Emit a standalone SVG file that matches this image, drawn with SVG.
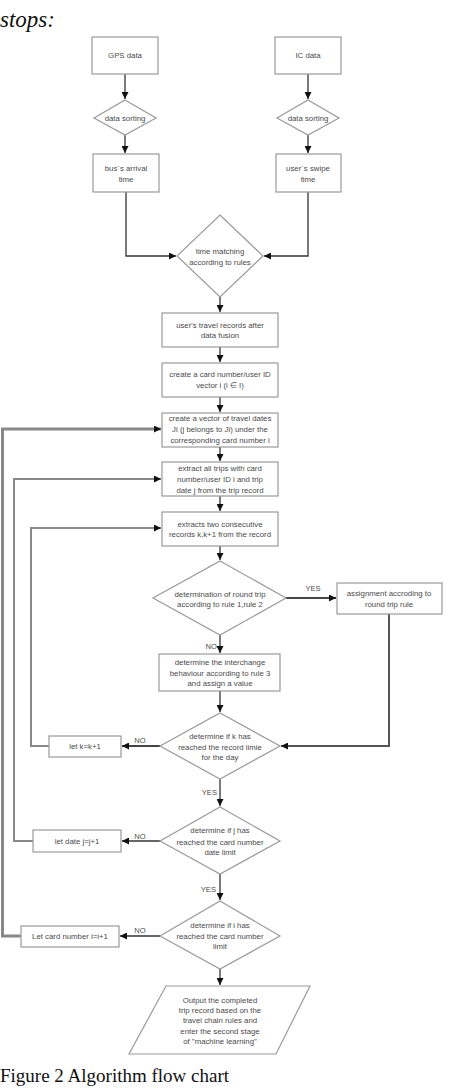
<svg xmlns="http://www.w3.org/2000/svg" width="474" height="1088" viewBox="0 0 474 1088">
<style>
.box{fill:#fff;stroke:#9a9a9a;stroke-width:1.2}
.t{font-family:"Liberation Sans",Arial,sans-serif;font-size:7.8px;fill:#4a4a4a;text-anchor:middle}
.lbl{font-family:"Liberation Sans",Arial,sans-serif;font-size:7.6px;fill:#4a4a4a;text-anchor:middle}
.c{fill:none;stroke:#333;stroke-width:1.3}
.loop{fill:none;stroke:#888;stroke-width:2}
</style>
<defs>
<marker id="ah" viewBox="0 0 10 10" refX="10" refY="5" markerWidth="7" markerHeight="7" markerUnits="userSpaceOnUse" orient="auto"><path d="M0,0 L10,5 L0,10 z" fill="#111"/></marker>
</defs>
<rect width="474" height="1088" fill="#fff"/>
<text x="0" y="27" style="font-family:'Liberation Serif','Times New Roman',serif;font-size:23px;font-style:italic;fill:#111">stops:</text>

<g id="connectors">
<path class="c" d="M125,74 V99" marker-end="url(#ah)"/>
<path class="c" d="M308,74 V99" marker-end="url(#ah)"/>
<path class="c" d="M125,135 V153" marker-end="url(#ah)"/>
<path class="c" d="M308,135 V153" marker-end="url(#ah)"/>
<path class="c" d="M126,192 V256 H176" marker-end="url(#ah)"/>
<path class="c" d="M308,192 V256 H264" marker-end="url(#ah)"/>
<path class="c" d="M220,297 V312" marker-end="url(#ah)"/>
<path class="c" d="M220,347 V362" marker-end="url(#ah)"/>
<path class="c" d="M220,397 V412" marker-end="url(#ah)"/>
<path class="c" d="M220,447 V461" marker-end="url(#ah)"/>
<path class="c" d="M220,496 V511" marker-end="url(#ah)"/>
<path class="c" d="M220,546 V560" marker-end="url(#ah)"/>
<path class="c" d="M286,598 H336" marker-end="url(#ah)" style="stroke-width:2;stroke:#444"/>
<path class="c" d="M389,614 V746 H281" marker-end="url(#ah)" style="stroke-width:2;stroke:#555"/>
<path class="c" d="M220,635 V653" marker-end="url(#ah)"/>
<path class="c" d="M220,691 V712" marker-end="url(#ah)"/>
<path class="c" d="M160,746 H122" marker-end="url(#ah)" style="stroke-width:2;stroke:#444"/>
<path class="loop" d="M49,746 H31 V528 H161" marker-end="url(#ah)"/>
<path class="c" d="M220,779 V806" marker-end="url(#ah)"/>
<path class="c" d="M160,841 H122" marker-end="url(#ah)"/>
<path class="loop" d="M33,841 H14 V479 H161" marker-end="url(#ah)"/>
<path class="c" d="M220,874 V900" marker-end="url(#ah)"/>
<path class="c" d="M160,936 H120" marker-end="url(#ah)"/>
<path class="loop" d="M21,936 H2.5 V429 H161" marker-end="url(#ah)" style="stroke-width:3"/>
<path class="c" d="M220,969 V985" marker-end="url(#ah)"/>
<text class="lbl" x="313" y="591">YES</text>
<text class="lbl" x="217" y="649" style="text-anchor:end">NO</text>
<text class="lbl" x="140" y="743">NO</text>
<text class="lbl" x="217" y="795" style="text-anchor:end">YES</text>
<text class="lbl" x="140" y="839">NO</text>
<text class="lbl" x="216" y="892" style="text-anchor:end">YES</text>
<text class="lbl" x="140" y="933">NO</text>
</g>

<g id="gps"><rect class="box" x="92" y="37" width="66" height="37"/><text class="t" x="125" y="58">GPS data</text></g>
<g id="ic"><rect class="box" x="275" y="37" width="66" height="37"/><text class="t" x="308" y="58">IC data</text></g>
<g id="sort1"><path class="box" d="M125,100 L156,118 L125,135 L94,118 Z"/><text class="t" x="125" y="121">data sorting</text></g>
<g id="sort2"><path class="box" d="M308,100 L339,118 L308,135 L277,118 Z"/><text class="t" x="308" y="121">data sorting</text></g>
<g id="bus"><rect class="box" x="93" y="154" width="66" height="38"/><text class="t" x="126" y="171">bus`s arrival</text><text class="t" x="126" y="182">time</text></g>
<g id="swipe"><rect class="box" x="276" y="154" width="65" height="38"/><text class="t" x="308" y="171">user`s swipe</text><text class="t" x="308" y="182">time</text></g>
<g id="match"><path class="box" d="M220,215 L263,256 L220,297 L177,256 Z"/><text class="t" x="220" y="254">time matching</text><text class="t" x="220" y="265">according to rules</text></g>
<g id="fusion"><rect class="box" x="162" y="313" width="116" height="34"/><text class="t" x="220" y="328">user's travel records after</text><text class="t" x="220" y="338">data fusion</text></g>
<g id="cardvec"><rect class="box" x="162" y="363" width="116" height="34"/><text class="t" x="220" y="377">create a card number/user ID</text><text class="t" x="220" y="388">vector i (i ∈ I)</text></g>
<g id="datevec"><rect class="box" x="162" y="413" width="116" height="34"/><text class="t" x="220" y="421">create a vector of travel dates</text><text class="t" x="220" y="432">Ji (j belongs to Ji) under the</text><text class="t" x="220" y="443">corresponding card number i</text></g>
<g id="extract"><rect class="box" x="162" y="462" width="116" height="34"/><text class="t" x="220" y="471">extract all trips with card</text><text class="t" x="220" y="482">number/user ID i and trip</text><text class="t" x="220" y="493">date j from the trip record</text></g>
<g id="consec"><rect class="box" x="162" y="512" width="116" height="34"/><text class="t" x="220" y="527">extracts two consecutive</text><text class="t" x="220" y="537">records k,k+1 from the record</text></g>
<g id="round"><path class="box" d="M220,561 L286,598 L220,635 L153,598 Z"/><text class="t" x="220" y="597">determination of round trip</text><text class="t" x="220" y="607">according to rule 1,rule 2</text></g>
<g id="assign"><rect class="box" x="337" y="583" width="105" height="31"/><text class="t" x="389" y="596">assignment accroding to</text><text class="t" x="389" y="607">round trip rule</text></g>
<g id="interchange"><rect class="box" x="159" y="654" width="121" height="37"/><text class="t" x="220" y="665">determine the interchange</text><text class="t" x="220" y="676">behaviour according to rule 3</text><text class="t" x="220" y="686">and assign a value</text></g>
<g id="klimit"><path class="box" d="M220,713 L280,746 L220,779 L160,746 Z"/><text class="t" x="220" y="739">determine if k has</text><text class="t" x="220" y="750">reached the record limie</text><text class="t" x="220" y="760">for the day</text></g>
<g id="kinc"><rect class="box" x="49" y="736" width="72" height="21"/><text class="t" x="85" y="749">let k=k+1</text></g>
<g id="jlimit"><path class="box" d="M220,807 L280,841 L220,874 L160,841 Z"/><text class="t" x="220" y="833">determine if j has</text><text class="t" x="220" y="845">reached the card number</text><text class="t" x="220" y="855">date limit</text></g>
<g id="jinc"><rect class="box" x="33" y="830" width="88" height="22"/><text class="t" x="77" y="844">let date j=j+1</text></g>
<g id="ilimit"><path class="box" d="M220,901 L280,936 L220,969 L160,936 Z"/><text class="t" x="220" y="928">determine if i has</text><text class="t" x="220" y="939">reached the card number</text><text class="t" x="220" y="949">limit</text></g>
<g id="iinc"><rect class="box" x="21" y="926" width="98" height="21"/><text class="t" x="70" y="939">Let card number i=i+1</text></g>
<g id="output"><path class="box" d="M166,986 L310,986 L276,1054 L129,1054 Z"/><text class="t" x="220" y="1003">Output the completed</text><text class="t" x="220" y="1013">trip record based on the</text><text class="t" x="220" y="1023">travel chain rules and</text><text class="t" x="220" y="1034">enter the second stage</text><text class="t" x="220" y="1044">of   "machine learning"</text></g>
<text x="0" y="1082" style="font-family:'Liberation Serif','Times New Roman',serif;font-size:19px;fill:#111">Figure 2 Algorithm flow chart</text>
</svg>
